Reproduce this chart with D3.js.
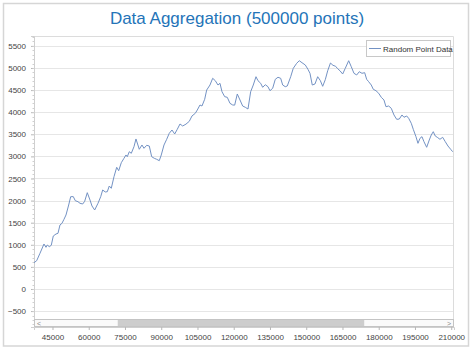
<!DOCTYPE html>
<html>
<head>
<meta charset="utf-8">
<script src="https://cdn.jsdelivr.net/npm/d3@7"></script>
<style>
    body { margin: 0; background: #ffffff; }
    text { font-family: "Liberation Sans", Arial, sans-serif; }
</style>
</head>
<body>
<div id="chart"></div>
<script>
const chartTitle = "Data Aggregation (500000 points)";
const seriesName = "Random Point Data";

const xValues = [37350, 38460, 39830, 41480, 42310, 42850, 43680, 44500, 45330, 46450,
    47280, 48100, 48930, 49760, 50590, 51700, 52530, 53610, 54430, 55550,
    56380, 57500, 58320, 59400, 60520, 61350, 62460, 63830, 64950, 65770,
    66850, 67680, 68500, 69330, 70450, 71570, 72390, 73470, 74590, 75410,
    75950, 76780, 77610, 78720, 79550, 80920, 82030, 82860, 83980, 85060,
    86050, 87120, 88120, 89190, 90020, 91140, 92260, 93330, 94450, 95570,
    96640, 97760, 98880, 100240, 101610, 102720, 104090, 104920, 106030, 106860,
    107980, 108810, 110170, 111290, 112370, 113480, 114310, 115140, 116260, 117330,
    118450, 119570, 120390, 121470, 122590, 123700, 124780, 125900, 127010, 128090,
    129210, 130030, 131150, 131980, 133060, 134170, 135000, 136120, 137190, 138310,
    139430, 140260, 141330, 142160, 143570, 144640, 146050, 147120, 148240, 149610,
    150720, 151550, 152500, 153620, 154740, 155810, 156810, 157880, 158880, 160030,
    161070, 162190, 162850, 163970, 165080, 166160, 167570, 168640, 169760, 170880,
    171950, 173070, 174190, 175010, 175840, 176920, 177750, 178860, 179980, 181060,
    182170, 183000, 184120, 185190, 186310, 187430, 188500, 189620, 190450, 191570,
    192390, 193470, 194300, 195410, 196240, 197070, 197900, 198720, 199840, 200920,
    201740, 202570, 203400, 204230, 205340, 206460, 207540, 208650, 209770, 210600];

const yValues = [595, 640, 808, 1018, 943, 995, 957, 989, 1199, 1244,
    1260, 1448, 1486, 1577, 1674, 1900, 2088, 2090, 1998, 1975,
    1939, 1923, 1984, 2179, 2014, 1878, 1787, 1939, 2088, 2240,
    2195, 2201, 2330, 2278, 2541, 2753, 2676, 2857, 2957, 3032,
    2993, 3106, 3070, 3219, 3394, 3161, 3258, 3183, 3251, 3235,
    2993, 2957, 2934, 2903, 3032, 3258, 3387, 3523, 3597, 3507,
    3613, 3733, 3688, 3730, 3794, 3914, 3975, 4050, 4163, 4140,
    4292, 4502, 4615, 4767, 4713, 4615, 4654, 4464, 4351, 4337,
    4201, 4163, 4160, 4412, 4276, 4140, 4111, 4072, 4464, 4615,
    4803, 4713, 4654, 4563, 4622, 4577, 4486, 4541, 4744, 4790,
    4767, 4615, 4577, 4593, 4803, 4993, 5106, 5165, 5120, 5068,
    4970, 4880, 4615, 4638, 4803, 4717, 4586, 4735, 4937, 5113,
    5061, 5038, 4993, 4937, 4864, 4993, 5165, 5029, 4880, 4842,
    4916, 4880, 4894, 4744, 4690, 4615, 4518, 4486, 4428, 4337,
    4276, 4124, 4140, 4088, 3937, 3839, 3845, 3937, 3885, 3914,
    3862, 3749, 3613, 3446, 3296, 3409, 3446, 3333, 3206, 3371,
    3484, 3559, 3461, 3432, 3387, 3432, 3333, 3235, 3161, 3106];

const xTicks = [45000, 60000, 75000, 90000, 105000, 120000, 135000, 150000, 165000, 180000, 195000, 210000];
const yTicks = [-500, 0, 500, 1000, 1500, 2000, 2500, 3000, 3500, 4000, 4500, 5000, 5500];

function renderChart() {
    const totalWidth = 474, totalHeight = 350;
    const margin = {top: 36, right: 20, bottom: 23, left: 34},
        width = totalWidth - margin.left - margin.right,
        height = totalHeight - margin.top - margin.bottom;
    const lineColor = "#7392c4";

    const root = d3.select("#chart").append("svg")
        .attr("width", totalWidth)
        .attr("height", totalHeight);

    // outer frame
    root.append("rect")
        .attr("x", 3.5).attr("y", 3.5)
        .attr("width", 465).attr("height", 342.5)
        .style("fill", "#ffffff")
        .style("stroke", "#d6d6d6")
        .style("stroke-width", 1.5);

    root.append("text")
        .attr("x", 237)
        .attr("y", 23.5)
        .attr("text-anchor", "middle")
        .style("font-size", "17px")
        .style("fill", "#2474b8")
        .text(chartTitle);

    const svg = root.append("g")
        .attr("transform", "translate(" + margin.left + "," + margin.top + ")");

    const x = d3.scaleLinear()
        .domain([37350, 211150])
        .range([0, width]);
    const y = d3.scaleLinear()
        .domain([-860, 5724])
        .range([height, 0]);

    // gridlines
    svg.append("g")
        .selectAll("grid-line")
        .data(yTicks)
        .enter()
        .append("line")
        .attr("x1", 0)
        .attr("x2", width)
        .attr("y1", function (d) { return Math.round(y(d)) + 0.5 })
        .attr("y2", function (d) { return Math.round(y(d)) + 0.5 })
        .style("stroke", "#e6e6e6");

    // plot border (top / right)
    svg.append("path")
        .attr("d", "M0.5," + height + "V0.5H" + (width - 0.5) + "V" + height)
        .style("fill", "none")
        .style("stroke", "#dcdcdc");

    // Add Y axis
    const yAxis = svg.append("g")
        .call(d3.axisLeft(y).tickValues(yTicks).tickSize(3).tickPadding(5).tickFormat(d3.format("d")));
    yAxis.select(".domain").style("stroke", "#cfcfcf");
    yAxis.selectAll(".tick line").style("stroke", "#b8b8b8");
    yAxis.selectAll("text").style("font-size", "8px").style("fill", "#444");

    // minor y ticks
    svg.append("g")
        .selectAll("y-minor")
        .data(d3.range(-800, 5701, 100))
        .enter()
        .append("line")
        .attr("x1", -1.5).attr("x2", 0)
        .attr("y1", function (d) { return Math.round(y(d)) + 0.5 })
        .attr("y2", function (d) { return Math.round(y(d)) + 0.5 })
        .style("stroke", "#d0d0d0");

    // Add X axis
    const xAxis = svg.append("g")
        .attr("transform", "translate(0," + height + ")")
        .call(d3.axisBottom(x).tickValues(xTicks).tickSize(3).tickPadding(4).tickFormat(d3.format("d")));
    xAxis.select(".domain").style("stroke", "#cfcfcf");
    xAxis.selectAll(".tick line").style("stroke", "#b8b8b8");
    xAxis.selectAll("text").style("font-size", "8px").style("fill", "#444");

    // data line
    const line = d3.line()
        .x(function (d) { return x(d[0]) })
        .y(function (d) { return y(d[1]) });
    svg.append("path")
        .datum(d3.zip(xValues, yValues))
        .attr("d", line)
        .style("fill", "none")
        .style("stroke", lineColor)
        .style("stroke-width", 1);

    // scrollbar
    const sb = svg.append("g").attr("transform", "translate(0," + (height - 8) + ")");
    sb.append("rect")
        .attr("x", 0.5).attr("y", 0.5)
        .attr("width", width - 1).attr("height", 7)
        .style("fill", "#fafafa")
        .style("stroke", "#c4c4c4");
    sb.append("rect")
        .attr("x", x(72000)).attr("y", 1)
        .attr("width", x(174000) - x(72000)).attr("height", 6)
        .style("fill", "#cdcdcd");
    sb.append("text")
        .attr("x", 3).attr("y", 6.5)
        .style("font-size", "7px").style("fill", "#888")
        .text("<");
    sb.append("text")
        .attr("x", width - 7).attr("y", 6.5)
        .style("font-size", "7px").style("fill", "#888")
        .text(">");

    // legend
    const legend = svg.append("g").attr("transform", "translate(" + (width - 88) + ",4)");
    legend.append("rect")
        .attr("x", 0.5).attr("y", 0.5)
        .attr("width", 84).attr("height", 16)
        .style("fill", "#ffffff")
        .style("stroke", "#c8c8c8");
    legend.append("line")
        .attr("x1", 3).attr("x2", 15)
        .attr("y1", 8.5).attr("y2", 8.5)
        .style("stroke", lineColor);
    legend.append("text")
        .attr("x", 17)
        .attr("y", 11.5)
        .style("font-size", "8px")
        .style("fill", "#333")
        .text(seriesName);
}

renderChart();
</script>
</body>
</html>
